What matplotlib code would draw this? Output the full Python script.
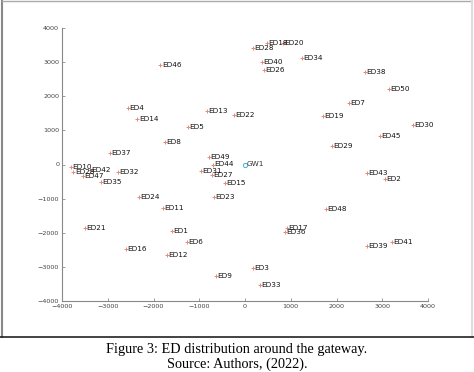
import matplotlib
matplotlib.use('Agg')
import matplotlib.pyplot as plt
from matplotlib.lines import Line2D

# end devices (ED) around the gateway, positions
names = ['ED46', 'ED4', 'ED14', 'ED5', 'ED8', 'ED37', 'ED13', 'ED49', 'ED44',
         'ED10', 'ED28', 'ED42', 'ED47', 'ED32', 'ED35', 'ED24', 'ED11', 'ED21',
         'ED1', 'ED6', 'ED16', 'ED12', 'ED9', 'ED31', 'ED27', 'ED15', 'ED23',
         'ED22', 'ED18', 'ED20', 'ED28', 'ED40', 'ED26', 'ED34', 'ED38', 'ED50',
         'ED7', 'ED19', 'ED30', 'ED45', 'ED29', 'ED43', 'ED2', 'ED48', 'ED17',
         'ED36', 'ED39', 'ED41', 'ED3', 'ED33']
xs = [-1850, -2550, -2350, -1250, -1750, -2950, -830, -790, -700,
      -3800, -3750, -3390, -3540, -2780, -3150, -2320, -1790, -3500,
      -1600, -1270, -2600, -1700, -630, -960, -730, -440, -680,
      -240, 480, 830, 175, 370, 415, 1245, 2620, 3150,
      2270, 1700, 3670, 2950, 1900, 2660, 3060, 1770, 920,
      870, 2670, 3210, 175, 330]
ys = [2920, 1650, 1330, 1100, 650, 350, 1570, 220, 0,
      -80, -220, -160, -340, -220, -510, -950, -1270, -1860,
      -1950, -2270, -2480, -2650, -3270, -190, -310, -540, -950,
      1450, 3560, 3560, 3410, 3000, 2770, 3120, 2710, 2210,
      1800, 1420, 1160, 830, 540, -250, -430, -1310, -1870,
      -1980, -2390, -2270, -3030, -3530]
gw_x, gw_y = [0], [0]

fig = plt.figure(figsize=(4.74, 3.72), dpi=100)
ax = fig.add_axes([62/474, 71/372, 366/474, 273/372])

ax.plot(xs, ys, linestyle='none', marker='+', markersize=3.2, mew=0.7, color='#e58a7a')
ax.plot(gw_x, gw_y, linestyle='none', marker='o', markersize=3, mfc='none', mec='#40b0d0', mew=0.7)

for n, x, y in zip(names, xs, ys):
    ax.annotate(n, (x, y), xytext=(1, 0), textcoords='offset points',
                fontsize=5.2, va='center', ha='left', color='#111111')
ax.annotate('GW1', (gw_x[0], gw_y[0]), xytext=(1.5, 0), textcoords='offset points',
            fontsize=5.2, va='center', ha='left', color='#333333')

ax.set_xlim(-4000, 4000)
ax.set_ylim(-4000, 4000)
ax.set_xticks(range(-4000, 4001, 1000))
ax.set_yticks(range(-4000, 4001, 1000))
ax.tick_params(direction='in', length=2, width=0.5, labelsize=4.6,
               colors='#777777', labelcolor='#444444', pad=2)
for s in ['top', 'right']:
    ax.spines[s].set_visible(False)
for s in ['left', 'bottom']:
    ax.spines[s].set_color('#888888')
    ax.spines[s].set_linewidth(0.8)

# frame of the embedded picture and the caption
fig.add_artist(Line2D([2/474, 2/474], [35/372, 1 - 1/372], color='#888888', lw=1.5))
fig.add_artist(Line2D([2/474, 472/474], [1 - 1/372, 1 - 1/372], color='#aaaaaa', lw=1))
fig.add_artist(Line2D([472/474, 472/474], [35/372, 1 - 1/372], color='#dddddd', lw=1.5))
fig.add_artist(Line2D([0, 1], [35/372, 35/372], color='#222222', lw=1.2))
fig.text(0.5, 1 - 349/372, 'Figure 3: ED distribution around the gateway.',
         family='Liberation Serif', fontsize=10.3, ha='center', va='center')
fig.text(0.5, 1 - 364/372, 'Source: Authors, (2022).',
         family='Liberation Serif', fontsize=10.3, ha='center', va='center')

fig.savefig('out.png', dpi=100)
